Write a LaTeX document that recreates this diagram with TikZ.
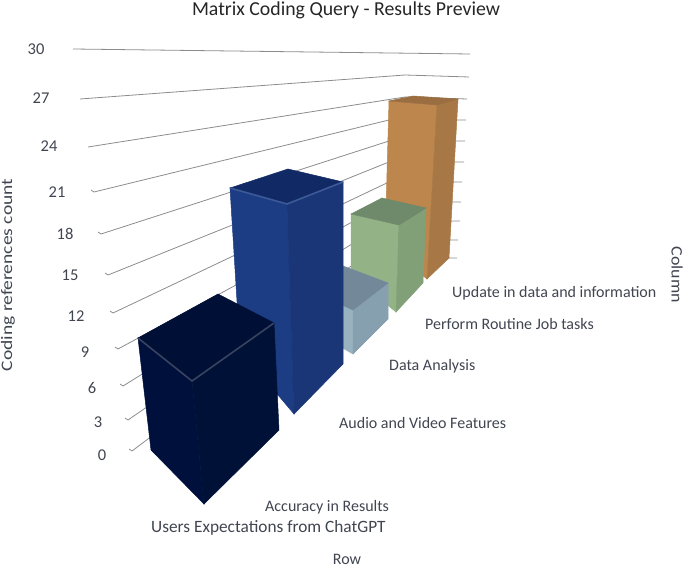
\documentclass[tikz,border=0pt]{standalone}
\usepackage{fontspec}
\setmainfont{Carlito}
\definecolor{txtgrey}{HTML}{404550}
\definecolor{gridgrey}{HTML}{8A8C8E}
\definecolor{navyfront}{HTML}{00103C}
\definecolor{navyside}{HTML}{001138}
\definecolor{navytop}{HTML}{000F35}
\definecolor{navyedge}{HTML}{38435F}
\definecolor{bluefront}{HTML}{1C3C84}
\definecolor{blueside}{HTML}{1A3677}
\definecolor{bluetop}{HTML}{112A66}
\definecolor{blueedge}{HTML}{3D5A98}
\definecolor{paleblue}{HTML}{98B2BF}
\definecolor{palebside}{HTML}{86A0B0}
\definecolor{palebtop}{HTML}{73899A}
\definecolor{greenfront}{HTML}{93B387}
\definecolor{greenside}{HTML}{82A078}
\definecolor{greentop}{HTML}{6F8A6A}
\definecolor{orangefront}{HTML}{BC864D}
\definecolor{orangeside}{HTML}{A77845}
\definecolor{orangetop}{HTML}{9A6E40}

\begin{document}
\begin{tikzpicture}[
x = 1pt,
y = -1pt,
every node/.style = {
	font = \fontsize{16}{19}\selectfont,
	text = txtgrey,
	inner sep = 0pt
},
title/.style = {
	font = \fontsize{19.8}{24}\selectfont,
	text = black!85
},
value/.style = {
	font = \fontsize{16.5}{19}\selectfont
},
category/.style = {
	anchor = west
},
gridline/.style = {
	draw = gridgrey,
	line width = 0.8pt
},
face/.style = {
	fill = #1,
	draw = #1,
	line width = 0.5pt
},
edge/.style = {
	line width = 1.6pt
}
]
\useasboundingbox (0,0) rectangle (685,569);

\node [title] (title) at (346,10) {Matrix Coding Query - Results Preview};

% back wall lines
\draw[gridline] (73,49) -- (470,54);
\draw[gridline] (80,99) -- (405,75) -- (469,77);
\draw[gridline] (88,147) -- (405,97) -- (467,99);
\foreach \lx/\ly/\ry/\ex/\val/\tx/\ty in {
	94/192/120/466/21/57/192,
	101/234/141/465/18/65/234,
	108/275/162/464/15/70/275,
	113/313/182/462/12/76/316,
	118/349/202/461/9/85/352,
	123/386/221/460/6/92/388,
	128/420/240/458/3/98/422,
	132/451/258/457/0/102/455
}{
	\draw[gridline] (\lx-3,\ly-2) -- (\lx,\ly) -- (389,\ry) -- (\ex,\ry);
	\node [value] (v\val) at (\tx,\ty) {\val};
}
\node [value] (v30) at (36,49) {30};
\node [value] (v27) at (41,98) {27};
\node [value] (v24) at (49,146) {24};

% orange bar
\draw[face=orangefront] (389,101) -- (437,105) -- (427,279) -- (385,245) -- cycle;
\draw[face=orangeside] (437,105) -- (458,99) -- (449,258) -- (427,279) -- cycle;
\draw[face=orangetop] (389,101) -- (413,96) -- (458,99) -- (437,105) -- cycle;

% green bar
\draw[face=greenfront] (351,214) -- (399,225) -- (396,312) -- (351,275) -- cycle;
\draw[face=greenside] (399,225) -- (426,208) -- (423,283) -- (396,312) -- cycle;
\draw[face=greentop] (351,214) -- (382,198) -- (426,208) -- (399,225) -- cycle;

% pale bar
\draw[face=paleblue] (320,295) -- (353,310) -- (353,354) -- (320,335) -- cycle;
\draw[face=palebside] (353,310) -- (388,283) -- (388,319) -- (353,354) -- cycle;
\draw[face=palebtop] (320,295) -- (343,266) -- (388,283) -- (353,310) -- cycle;

% blue bar
\draw[face=bluefront] (230,188) -- (287,204) -- (294,414) -- (240,350) -- cycle;
\draw[face=blueside] (287,204) -- (343,182) -- (343,364) -- (294,414) -- cycle;
\draw[face=bluetop] (230,188) -- (288,169) -- (343,182) -- (287,204) -- cycle;
\draw[edge, blueedge] (230,188) -- (287,204) -- (343,182);

% navy bar
\draw[face=navyfront] (138,338) -- (192,381) -- (204,504) -- (151,450) -- cycle;
\draw[face=navyside] (192,381) -- (274,323) -- (279,430) -- (204,504) -- cycle;
\draw[face=navytop] (138,338) -- (218,294) -- (274,323) -- (192,381) -- cycle;
\draw[edge, navyedge] (138,338) -- (192,381) -- (274,323);

\node [category] (update) at (452,293) {Update in data and information};
\node [category] (routine) at (425,324) {Perform Routine Job tasks};
\node [category] (analysis) at (389,366) {Data Analysis};
\node [category] (audio) at (339,423) {Audio and Video Features};
\node [category] (accuracy) at (265,507) {Accuracy in Results};
\node [category, font=\fontsize{17.3}{20}\selectfont] (users) at (151,528) {Users Expectations from ChatGPT};

\node [rotate=90] (ylabel) at (8,275) {\scalebox{1.22}[1]{Coding references count}};
\node [rotate=-90] (column) at (677,275) {\scalebox{1.12}[1]{Column}};
\node (row) at (347,559) {Row};

\end{tikzpicture}
\end{document}
